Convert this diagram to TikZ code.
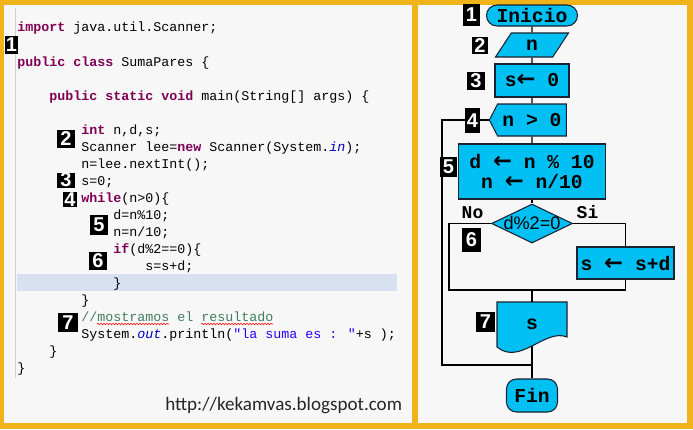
\documentclass[tikz,border=0pt]{standalone}
\usepackage{fontspec}
\usetikzlibrary{shapes.geometric,shapes.symbols,decorations.pathmorphing}
\newfontfamily\codefont{Liberation Mono}
\newfontfamily\arrowfont{DejaVu Sans}
\newfontfamily\tagfont{Liberation Sans}
\newfontfamily\webfont{Carlito}
\definecolor{marco}{RGB}{240,180,26}
\definecolor{panel}{RGB}{247,247,247}
\definecolor{flujo}{RGB}{0,191,243}
\definecolor{borde}{RGB}{25,35,50}
\definecolor{kwcol}{RGB}{127,0,85}
\definecolor{fieldcol}{RGB}{0,0,192}
\definecolor{strcol}{RGB}{42,0,255}
\definecolor{comcol}{RGB}{63,127,95}
\definecolor{resalte}{RGB}{215,225,242}
\newdimen\px \px=0.75pt
\newcommand{\kw}[1]{{\color{kwcol}\bfseries #1}}
\newcommand{\fld}[1]{{\color{fieldcol}\itshape #1}}
\newcommand{\asig}{{\arrowfont\bfseries\fontsize{17}{15}\selectfont ←}}
\tikzset{
  code/.style={anchor=base west, inner sep=0pt, font=\codefont\fontsize{10}{12}\selectfont},
  tag/.style={fill=black, text=white, inner sep=0pt, font=\tagfont\bfseries\fontsize{15}{15}\selectfont},
  flow/.style={draw=borde, fill=flujo, line width=0.8pt, inner sep=0pt, font=\codefont\bfseries\fontsize{14.75}{15}\selectfont},
  rama/.style={inner sep=0pt, font=\codefont\bfseries\fontsize{13.5}{14}\selectfont},
  link/.style={line width=0.9pt},
  squig/.style={red, line width=0.4pt, decorate, decoration={snake, amplitude=0.7\px, segment length=3\px}}
}
\begin{document}
\begin{tikzpicture}[x=0.75pt, y=-0.75pt]
\useasboundingbox (0,0) rectangle (693,429);
% marco y paneles
\fill[marco] (0,0) rectangle (693,429);
\fill[panel] (4,5) rectangle (412,423);
\fill[panel] (418,5) rectangle (687,423);
\draw[black!18] (15,8) -- (15,378);
\fill[resalte] (17,274) rectangle (397,291);

% codigo java
\node[code] (l1) at (17,31.5) {\kw{import} java.util.Scanner;};
\node[code] (l2) at (17,66) {\kw{public} \kw{class} SumaPares \{};
\node[code] (l3) at (49,100) {\kw{public} \kw{static} \kw{void} main(String[] args) \{};
\node[code] (l4) at (81,134) {\kw{int} n,d,s;};
\node[code] (l5) at (81,151) {Scanner lee=\kw{new} Scanner(System.\fld{in});};
\node[code] (l6) at (81,168) {n=lee.nextInt();};
\node[code] (l7) at (81,185) {s=0;};
\node[code] (l8) at (81,202) {\kw{while}(n>0)\{};
\node[code] (l9) at (113,219) {d=n\%10;};
\node[code] (l10) at (113,236) {n=n/10;};
\node[code] (l11) at (113,253) {\kw{if}(d\%2==0)\{};
\node[code] (l12) at (145,270) {s=s+d;};
\node[code] (l13) at (113,287) {\}};
\node[code] (l14) at (81,304) {\}};
\node[code] (l15) at (81,321) {\color{comcol}//mostramos el resultado};
\node[code] (l16) at (81,338) {System.\fld{out}.println({\color{strcol}"la suma es : "}+s );};
\node[code] (l17) at (49,355) {\}};
\node[code] (l18) at (17,372) {\}};
\draw[squig] (97,324) -- (169,324);
\draw[squig] (201,324) -- (273,324);
\node[anchor=base west, inner sep=0pt, font=\webfont\fontsize{14.3}{16}\selectfont, text=black!85] (url) at (165,410) {http://kekamvas.blogspot.com};

% diagrama de flujo
\node[flow, rounded corners=10.5\px, minimum width=91\px, minimum height=21\px] (inicio) at (532,15.5) {Inicio};
\node[flow, trapezium, trapezium left angle=67, trapezium right angle=113, trapezium stretches=true, minimum width=73\px, minimum height=24\px] (leer) at (532,45) {n};
\node[flow, minimum width=74\px, minimum height=33\px] (ini) at (532,80.5) {s\asig{} 0};
\node[flow, signal, signal to=west, signal pointer angle=125, minimum width=77\px, minimum height=32\px] (cond) at (532,120) {n > 0};
\node[flow, align=center, minimum width=147\px, minimum height=55\px] (proc) at (532,171.5) {d \asig{} n \% 10\\n \asig{} n/10};
\node[flow, diamond, minimum width=81\px, minimum height=39\px, font=\tagfont\fontsize{13.6}{14}\selectfont] (dec) at (532,223.5) {\makebox[0pt]{d\%2=0}};
\node[flow, minimum width=97\px, minimum height=32\px] (suma) at (625.5,263) {s \asig{} s+d};
\filldraw[draw=borde, fill=flujo, line width=0.8pt] (497,302) -- (567,302) -- (567,337) .. controls (545,328) and (520,366) .. (497,347) -- cycle;
\node[inner sep=0pt, minimum width=70\px, minimum height=44\px, font=\codefont\bfseries\fontsize{14.75}{15}\selectfont] (salida) at (532,324) {s};
\node[flow, rounded corners=10\px, minimum width=51\px, minimum height=33\px] (fin) at (532,395.5) {Fin};
\node[rama] (no) at (472.5,212.5) {No};
\node[rama] (si) at (587.5,212.5) {Si};

\coordinate (mergeL) at (449,290);
\coordinate (merge) at (dec.south |- mergeL);
\coordinate (loopL) at (442,365);
\coordinate (exit) at (fin.north |- loopL);
\draw[link] (inicio) -- (leer);
\draw[link] (leer) -- (ini);
\draw[link] (ini) -- (cond);
\draw[link] (cond) -- (proc);
\draw[link] (proc) -- (dec);
\draw[link] (dec.east) -| (suma.north);
\draw[link] (dec.west) -| (mergeL) -| (suma.south);
\draw[link] (merge) -- (salida);
\draw[link] (salida) -- (fin);
\draw[link] (cond.west) -| (loopL) -- (exit);

% etiquetas numeradas
\node[tag, minimum width=13\px, minimum height=18\px] (c1) at (11.5,45) {1};
\node[tag, minimum width=18\px, minimum height=18\px] (c2) at (66,139) {2};
\node[tag, minimum width=18\px, minimum height=15\px] (c3) at (66,180) {3};
\node[tag, minimum width=14\px, minimum height=15\px] (c4) at (70,199.5) {4};
\node[tag, minimum width=18\px, minimum height=20\px] (c5) at (99,225) {5};
\node[tag, minimum width=18\px, minimum height=18\px] (c6) at (98,261) {6};
\node[tag, minimum width=20\px, minimum height=19\px] (c7) at (68,322.5) {7};
\node[tag, minimum width=17\px, minimum height=22\px] (f1) at (471.5,15) {1};
\node[tag, minimum width=16\px, minimum height=17\px] (f2) at (480,45.5) {2};
\node[tag, minimum width=18\px, minimum height=18\px] (f3) at (476,81) {3};
\node[tag, minimum width=15\px, minimum height=25\px] (f4) at (472.5,120.5) {4};
\node[tag, minimum width=17\px, minimum height=20\px] (f5) at (448.5,167) {5};
\node[tag, minimum width=19\px, minimum height=24\px] (f6) at (471.5,240) {6};
\node[tag, minimum width=19\px, minimum height=20\px] (f7) at (485.5,322) {7};
\end{tikzpicture}
\end{document}
